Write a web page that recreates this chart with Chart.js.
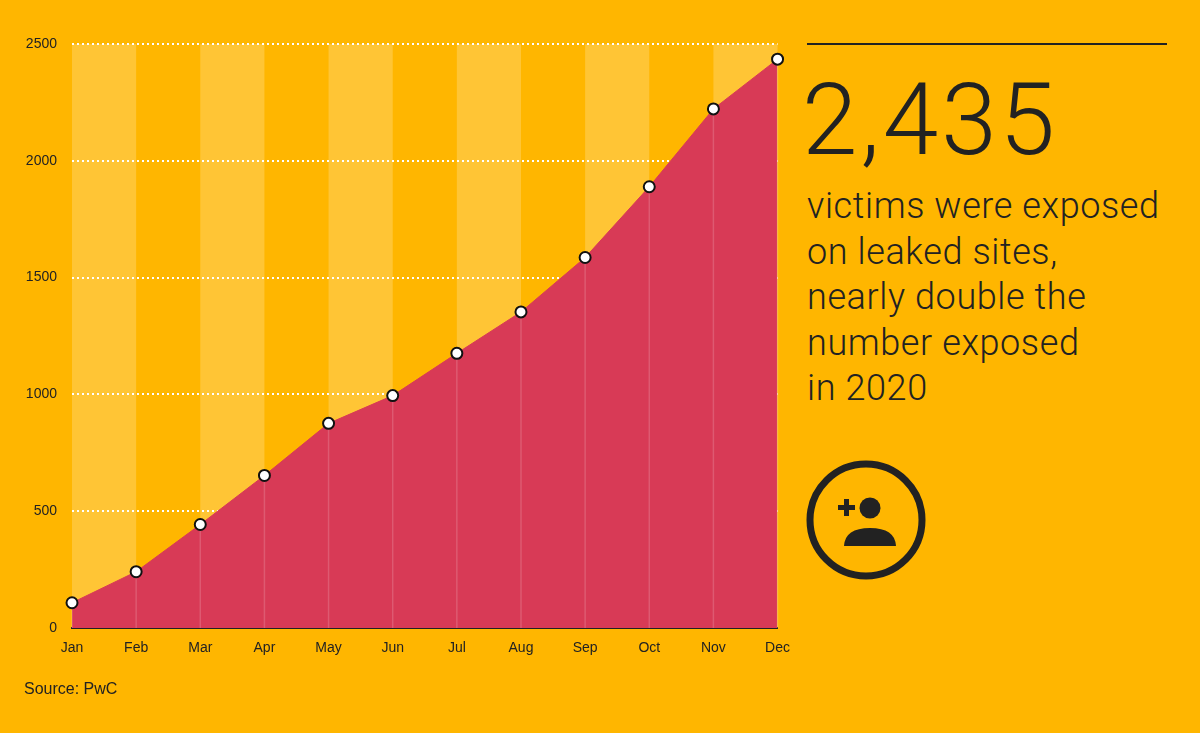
<!DOCTYPE html>
<html>
<head>
<meta charset="utf-8">
<script src="https://cdn.jsdelivr.net/npm/chart.js@4/dist/chart.umd.min.js"></script>
<style>
  html, body { margin: 0; padding: 0; }
  body { width: 1200px; height: 733px; background: #FFB600; position: relative; overflow: hidden;
         font-family: "Liberation Sans", Arial, sans-serif; color: #222; }
  .chart-box { position: absolute; left: 0; top: 0; width: 802px; height: 733px; }
  .rule { position: absolute; left: 807px; top: 43px; width: 360px; height: 0; border-top: 2px solid #222; }
  .big { position: absolute; left: 802px; top: 65px; font-family: Roboto, "Liberation Sans", sans-serif;
         font-weight: 300; font-size: 100px; line-height: 110px; letter-spacing: 3px; }
  .blurb { position: absolute; left: 807px; top: 184px; font-family: Roboto, "Liberation Sans", sans-serif;
           font-weight: 300; font-size: 36px; line-height: 45.5px; letter-spacing: 0.6px; }
  .icon { position: absolute; left: 804px; top: 458px; }
  .source { position: absolute; left: 24px; top: 680px; font-size: 16px; }
</style>
</head>
<body>
<div class="chart-box"><canvas id="myChart"></canvas></div>
<div class="rule"></div>
<div class="big">2,435</div>
<div class="blurb">victims were exposed<br>on leaked sites,<br>nearly double the<br>number exposed<br>in 2020</div>
<svg class="icon" width="126" height="126" viewBox="0 0 126 126">
  <circle cx="62" cy="62" r="56" fill="none" stroke="#222" stroke-width="7"/>
  <rect x="34" y="47" width="17" height="5" fill="#222"/>
  <rect x="40" y="41" width="5" height="17" fill="#222"/>
  <circle cx="66" cy="50" r="10.5" fill="#222"/>
  <path d="M40 88 Q41 70 66 70 Q91 70 92 88 Z" fill="#222"/>
</svg>
<div class="source">Source: PwC</div>
<script>
// Data
const months = ['Jan','Feb','Mar','Apr','May','Jun','Jul','Aug','Sep','Oct','Nov','Dec'];
const victims = [108, 241, 443, 653, 876, 995, 1176, 1353, 1586, 1889, 2222, 2435];
const yTicks = [0, 500, 1000, 1500, 2000, 2500];

// Alternating light bands behind the chart (Jan-Feb, Mar-Apr... every other interval)
const bandsPlugin = {
    id: 'bands',
    beforeDraw(chart) {
        const { ctx, chartArea, scales } = chart;
        ctx.save();
        ctx.fillStyle = '#FFC535';
        for (let i = 0; i < months.length - 1; i += 2) {
            const x1 = scales.x.getPixelForValue(i);
            const x2 = scales.x.getPixelForValue(i + 1);
            ctx.fillRect(x1, chartArea.top, x2 - x1, chartArea.bottom - chartArea.top);
        }
        ctx.restore();
    }
};

// Faint drop lines from each point down to the axis, over the fill
const dropLines = {
    id: 'dropLines',
    beforeDatasetsDraw(chart) {
        const { ctx, scales } = chart;
        const meta = chart.getDatasetMeta(0);
        ctx.save();
        ctx.strokeStyle = 'rgba(255,255,255,0.16)';
        ctx.lineWidth = 1.5;
        meta.data.forEach(pt => {
            ctx.beginPath();
            ctx.moveTo(pt.x, pt.y);
            ctx.lineTo(pt.x, scales.y.getPixelForValue(0));
            ctx.stroke();
        });
        ctx.restore();
    }
};

const ctx = document.getElementById('myChart').getContext('2d');
new Chart(ctx, {
    type: 'line',
    data: {
        labels: months,
        datasets: [{
            data: victims,
            fill: 'origin',
            backgroundColor: '#D83A56',
            borderColor: '#D83A56',
            borderWidth: 1,
            tension: 0,
            pointRadius: 5.5,
            pointBorderWidth: 2,
            pointBackgroundColor: '#ffffff',
            pointBorderColor: '#111111'
        }]
    },
    options: {
        responsive: true,
        maintainAspectRatio: false,
        animation: false,
        layout: { padding: { top: 44, right: 21, left: 0, bottom: 0 } },
        plugins: {
            legend: { display: false },
            tooltip: { enabled: false },
            filler: { drawTime: 'beforeDatasetsDraw' }
        },
        scales: {
            x: {
                offset: false,
                grid: { display: false, drawTicks: false },
                border: { display: true, color: '#222', width: 2 },
                ticks: { color: '#222', padding: 12, font: { family: 'Liberation Sans', size: 14 }, maxRotation: 0 },
                afterFit(scale) { scale.height = 105; }
            },
            y: {
                min: 0,
                max: 2500,
                afterBuildTicks(scale) { scale.ticks = yTicks.map(v => ({ value: v })); },
                grid: { color: '#ffffff', lineWidth: 2, drawTicks: false },
                border: { display: false, dash: [2, 3] },
                ticks: { color: '#222', padding: 15, font: { family: 'Liberation Sans', size: 14 },
                         callback: v => String(v) },
                afterFit(scale) { scale.width = 72; }
            }
        }
    },
    plugins: [bandsPlugin, dropLines]
});
</script>
</body>
</html>
